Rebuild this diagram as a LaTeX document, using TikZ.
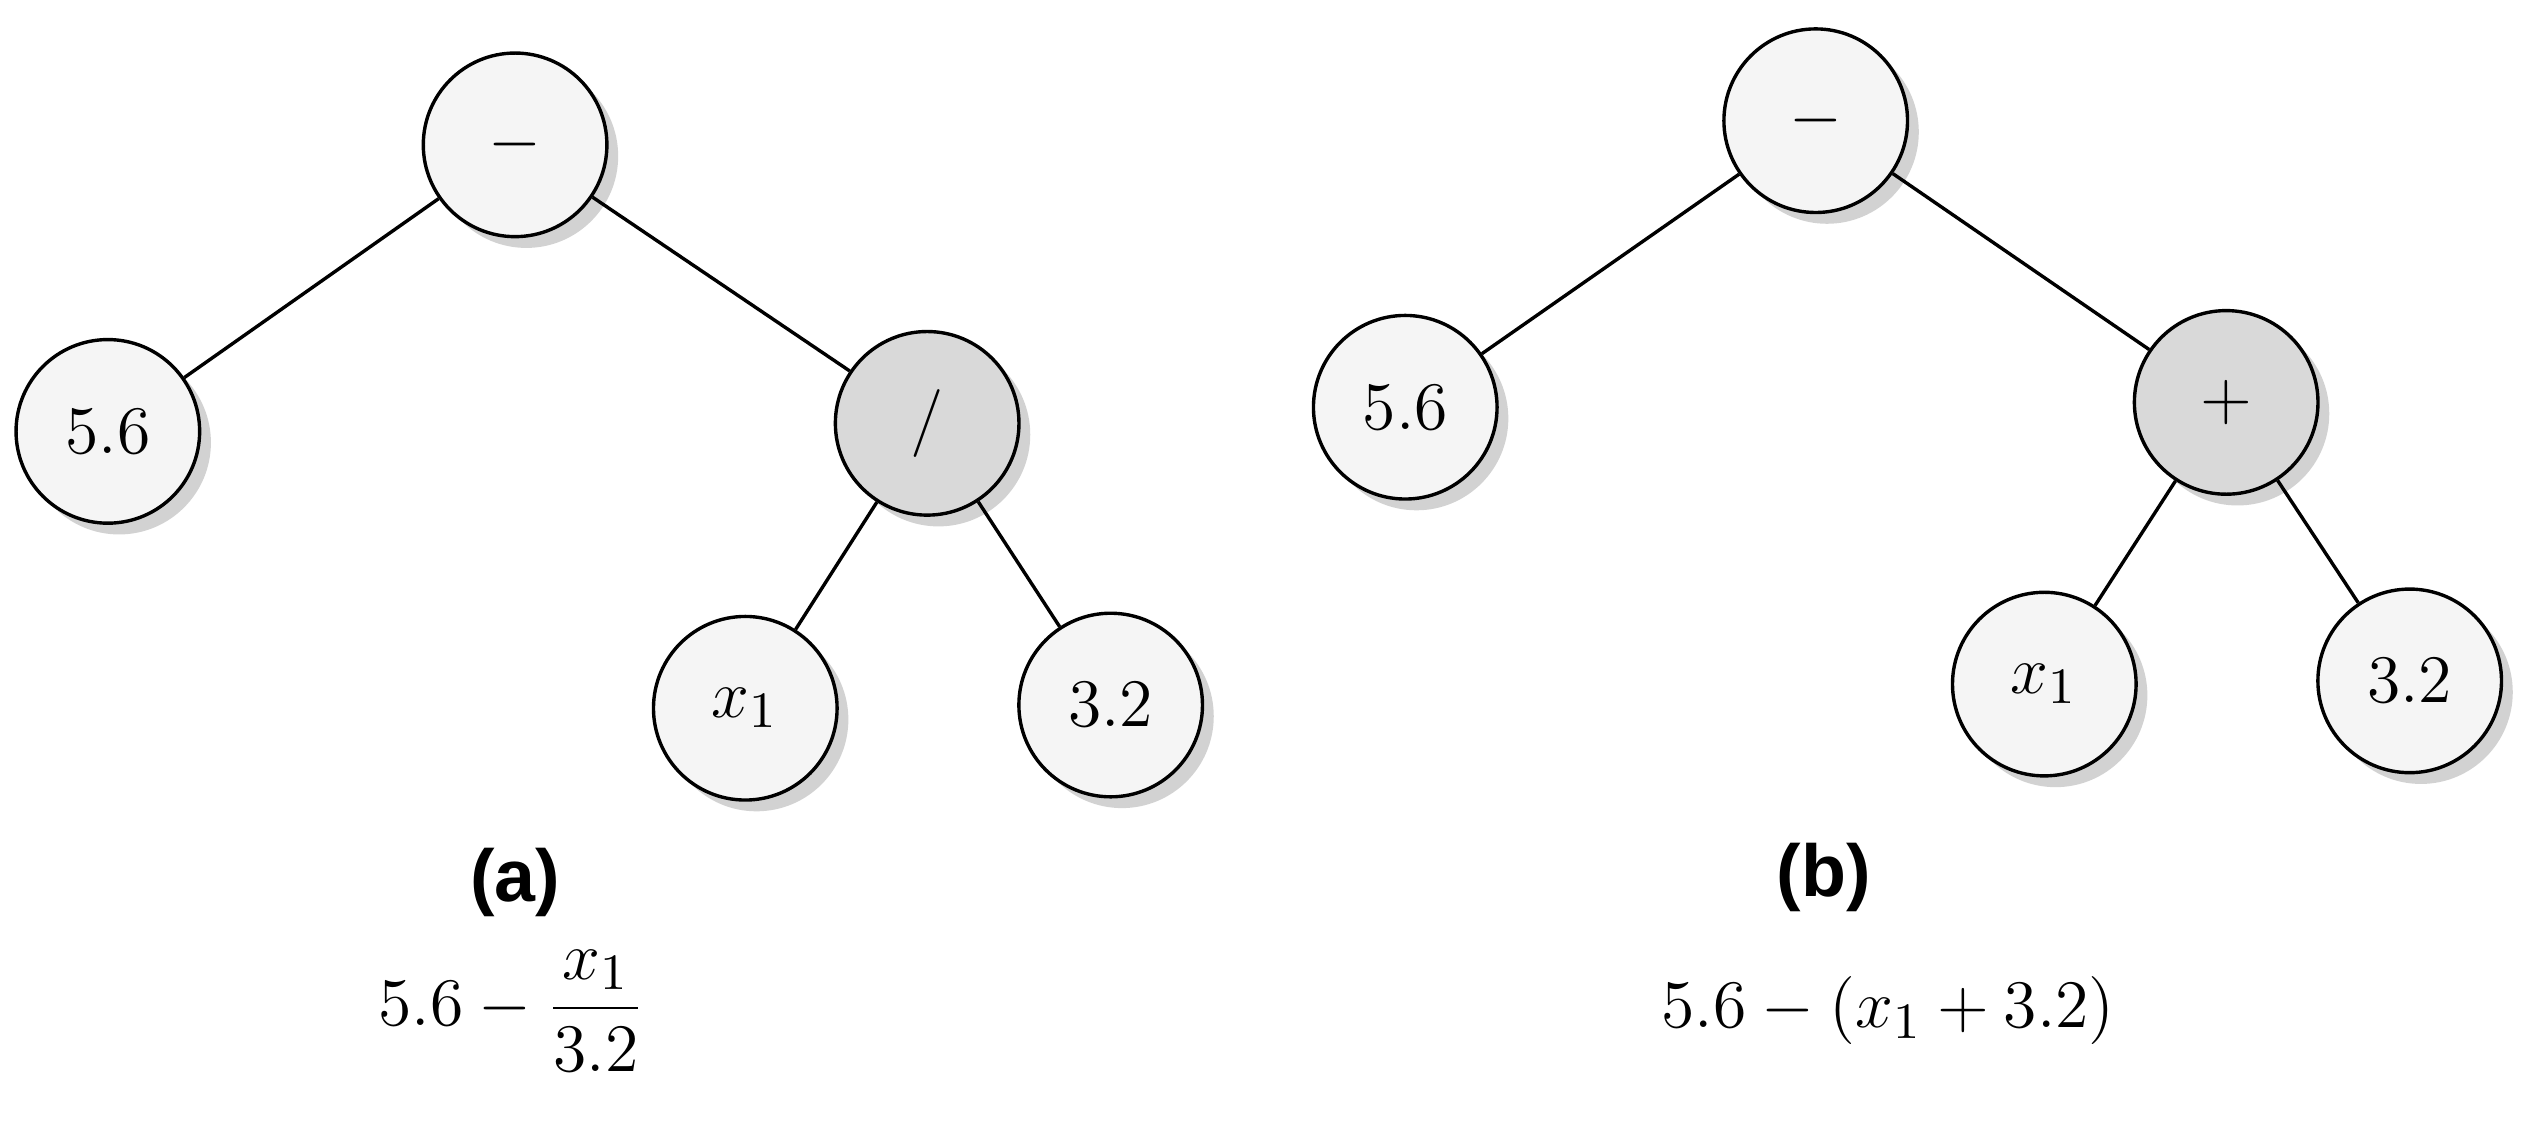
\documentclass[tikz,border=0pt]{standalone}
\usepackage{fontspec}
\newfontfamily\lab{Liberation Sans}
\usetikzlibrary{shadows}
\begin{document}
\begin{tikzpicture}[x=0.01cm,y=-0.01cm,
  tn/.style={circle,draw,line width=0.6pt,minimum size=1.14cm,inner sep=0pt,fill=gray!8,
    font=\fontsize{13}{15}\selectfont,drop shadow={shadow xshift=0.07cm,shadow yshift=-0.07cm,fill=black!35}},
  dk/.style={tn,fill=gray!30},
  ed/.style={line width=0.6pt}]
\useasboundingbox (0,0) rectangle (1568,698);
\node[tn] (ar) at (320,90) {$-$};
\node[tn] (a56) at (67,268) {$5.6$};
\node[dk] (ad) at (576,263) {$/$};
\node[tn] (ax) at (463,440) {$x_1$};
\node[tn] (a32) at (690,438) {$3.2$};
\draw[ed] (ar)--(a56) (ar)--(ad) (ad)--(ax) (ad)--(a32);
\node[font=\lab\bfseries\fontsize{13}{15}\selectfont] (la) at (320,548) {(a)};
\node[font=\fontsize{13}{15}\selectfont] (fa) at (318,628) {$\displaystyle 5.6-\frac{x_1}{3.2}$};
\node[tn] (br) at (1128,75) {$-$};
\node[tn] (b56) at (873,253) {$5.6$};
\node[dk] (bp) at (1383,250) {$+$};
\node[tn] (bx) at (1270,425) {$x_1$};
\node[tn] (b32) at (1497,423) {$3.2$};
\draw[ed] (br)--(b56) (br)--(bp) (bp)--(bx) (bp)--(b32);
\node[font=\lab\bfseries\fontsize{13}{15}\selectfont] (lb) at (1133,545) {(b)};
\node[font=\fontsize{13}{15}\selectfont] (fb) at (1173,628) {$5.6-(x_1+3.2)$};
\end{tikzpicture}
\end{document}
